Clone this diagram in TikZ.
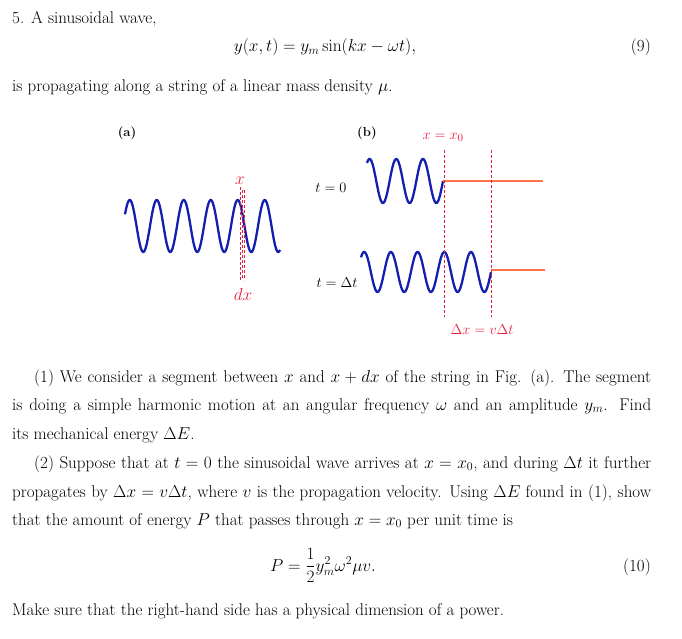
\documentclass[tikz,border=0pt]{standalone}
\begin{document}
\begin{tikzpicture}[x=1pt,y=-1pt,
  txt/.style={anchor=base west,inner sep=0pt,font=\fontsize{17}{20}\selectfont},
  eq/.style={anchor=base,inner sep=0pt,font=\fontsize{17}{20}\selectfont},
  fig/.style={inner sep=0pt,font=\fontsize{15}{18}\selectfont},
  figr/.style={fig,text=wred},
  wave/.style={draw=wblue,line width=2.3pt,smooth,samples=200},
  str/.style={draw=worange,line width=2.3pt},
  dl/.style={draw=wred,densely dashed,line width=0.6pt}]
\definecolor{wblue}{RGB}{20,30,175}
\definecolor{worange}{RGB}{255,115,70}
\definecolor{wred}{RGB}{235,30,60}
\useasboundingbox (0,0) rectangle (682,639);
\newcommand{\jline}[2]{\node[txt] at (12,#1) {\makebox[639pt][s]{#2}};}
\node[txt] (l1) at (12,24) {5. A sinusoidal wave,};
\node[eq] (e9) at (325,52) {$y(x,t)=y_m\sin(kx-\omega t),$};
\node[txt,anchor=base east] (n9) at (651,52) {(9)};
\node[txt] (l2) at (12,92) {is propagating along a string of a linear mass density $\mu$.};
% figure (a)
\node[fig,font=\bfseries\fontsize{13}{16}\selectfont] (la) at (127,133) {(a)};
\draw[wave,domain=125:280] plot (\x,{226-26*sin(13.3333*(\x-123))});
\draw[dl] (240.7,187) coordinate (a1) -- (240.7,280) coordinate (a2);
\draw[dl] (242.7,190) -- (242.7,280);
\draw[dl] (244.2,190) -- (244.2,280);
\node[figr,font=\fontsize{19}{22}\selectfont] (lx) at (240,181) {$x$};
\node[figr,font=\fontsize{19}{22}\selectfont] (ldx) at (243,294) {$dx$};
% figure (b)
\node[fig,font=\bfseries\fontsize{13}{16}\selectfont] (lb) at (367,133) {(b)};
\node[figr] (lx0) at (443,137) {$x=x_0$};
\draw[wave,domain=367:443] plot (\x,{181-22*sin(13.4831*(\x-443))});
\draw[str] (443,181) coordinate (o1) -- (543,181) coordinate (o2);
\draw[wave,domain=361:491] plot (\x,{272-20*sin(13.4831*(\x-491))});
\draw[str] (491,270) coordinate (o3) -- (545,270) coordinate (o4);
\draw[dl] (444,150) coordinate (d1) -- (444,317) coordinate (d2);
\draw[dl] (491,150) coordinate (d3) -- (491,317) coordinate (d4);
\node[fig] (t0) at (331,188) {$t=0$};
\node[fig] (t1) at (337,283) {$t=\Delta t$};
\node[figr] (ldx2) at (482,330) {$\Delta x=v\Delta t$};
% text
\jline{382}{\hspace*{22pt}(1) We consider a segment between $x$ and $x+dx$ of the string in Fig. (a). The segment}
\jline{410}{is doing a simple harmonic motion at an angular frequency $\omega$ and an amplitude $y_m$. Find}
\node[txt] (l5) at (12,439) {its mechanical energy $\Delta E$.};
\jline{468}{\hspace*{22pt}(2) Suppose that at $t=0$ the sinusoidal wave arrives at $x=x_0$, and during $\Delta t$ it further}
\jline{497}{propagates by $\Delta x=v\Delta t$, where $v$ is the propagation velocity. Using $\Delta E$ found in (1), show}
\node[txt] (l8) at (12,525) {that the amount of energy $P$ that passes through $x=x_0$ per unit time is};
\node[eq] (e10) at (323,571) {$P={\displaystyle\frac{1}{2}}y_m^2\omega^2\mu v.$};
\node[txt,anchor=base east] (n10) at (651,571) {(10)};
\node[txt] (l9) at (12,615) {Make sure that the right-hand side has a physical dimension of a power.};
\end{tikzpicture}
\end{document}
